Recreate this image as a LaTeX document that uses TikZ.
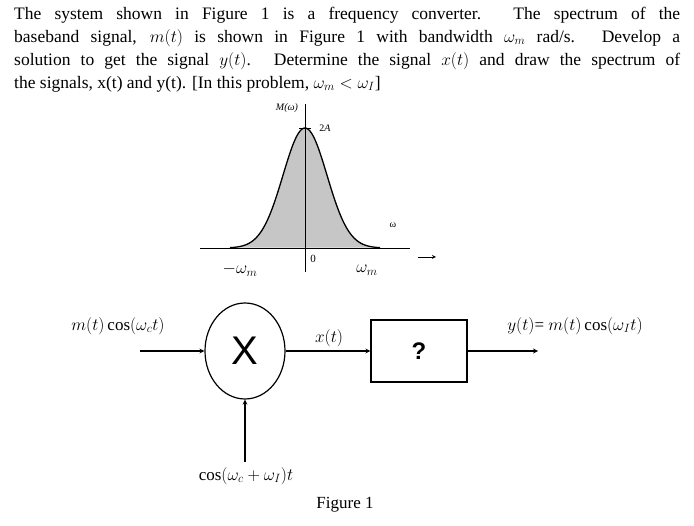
\documentclass[tikz,border=0pt]{standalone}
\usepackage{fontspec}
\setmainfont{Liberation Serif}
\newfontfamily\sansf{Liberation Sans}
\usetikzlibrary{shapes.geometric}
\begin{document}
\begin{tikzpicture}[x=1pt,y=-1pt,
  line/.style={line width=1.2pt},
  arr/.style={line width=1.2pt,-stealth},
  para/.style={anchor=west,inner sep=0pt,font=\fontsize{17.5}{22}\selectfont},
  lab/.style={inner sep=1pt,font=\fontsize{17}{20}\selectfont}]
\useasboundingbox (0,0) rectangle (694,526);
\node[para] (l1) at (14,15) {\makebox[666pt][s]{The system shown in Figure 1 is a frequency converter. The spectrum of the}};
\node[para] (l2) at (14,38) {\makebox[666pt][s]{baseband signal, $m(t)$ is shown in Figure 1 with bandwidth $\omega_m$ rad/s. Develop a}};
\node[para] (l3) at (14,61) {\makebox[666pt][s]{solution to get the signal $y(t)$. Determine the signal $x(t)$ and draw the spectrum of}};
\node[para] (l4) at (14,84) {the signals, x(t) and y(t). [In this problem, $\omega_m<\omega_I$]};
% spectrum
\fill[gray!45] plot[domain=-75:75,samples=80,smooth] ({305+\x},{248-120*exp(-(\x*\x)/(2*22*22))}) -- cycle;
\draw[line width=1.3pt] plot[domain=-75:75,samples=80,smooth] ({305+\x},{248-120*exp(-(\x*\x)/(2*22*22))});
\draw[line width=0.8pt] (200,248) -- (410,248);
\draw[line width=0.8pt] (305,104) -- (305,272);
\draw[line width=0.8pt] (299,128) -- (311,128);
\draw[line width=0.8pt,-stealth] (418,257) -- (436,257);
\node[font=\fontsize{10}{12}\selectfont\itshape] (M) at (287,108) {M(ω)};
\node[font=\fontsize{10}{12}\selectfont] (A) at (325,128) {2\textit{A}};
\node[font=\fontsize{10}{12}\selectfont] (w) at (393,225) {ω};
\node[font=\fontsize{11}{12}\selectfont] (z) at (313,259) {0};
\node[lab] (mw) at (240,270) {$-\omega_m$};
\node[lab] (pw) at (367,270) {$\omega_m$};
% block diagram
\node[draw,line width=1.2pt,ellipse,minimum width=80pt,minimum height=96pt,inner sep=0pt,font=\sansf\fontsize{40}{40}\selectfont] (X) at (245,351) {X};
\node[draw,line width=1.2pt,minimum width=96pt,minimum height=62pt,inner sep=0pt,font=\sansf\bfseries\fontsize{24}{24}\selectfont] (B) at (419,351) {?};
\coordinate (in) at (140,351);
\coordinate (out) at (538,351);
\coordinate (bot) at (245,462);
\draw[arr] (in) -- (X.west);
\draw[arr] (X.east) -- (B.west);
\draw[arr] (B.east) -- (out);
\draw[arr] (bot) -- (X.south);
\node[lab] (ml) at (118,326) {$m(t)\cos(\omega_c t)$};
\node[lab] (xl) at (329,338) {$x(t)$};
\node[lab] (yl) at (575,326) {$y(t)$= $m(t)\cos(\omega_I t)$};
\node[lab] (cl) at (246,476) {$\cos(\omega_c+\omega_I)t$};
\node[font=\fontsize{17}{20}\selectfont] (fig) at (345,505) {Figure 1};
\end{tikzpicture}
\end{document}
